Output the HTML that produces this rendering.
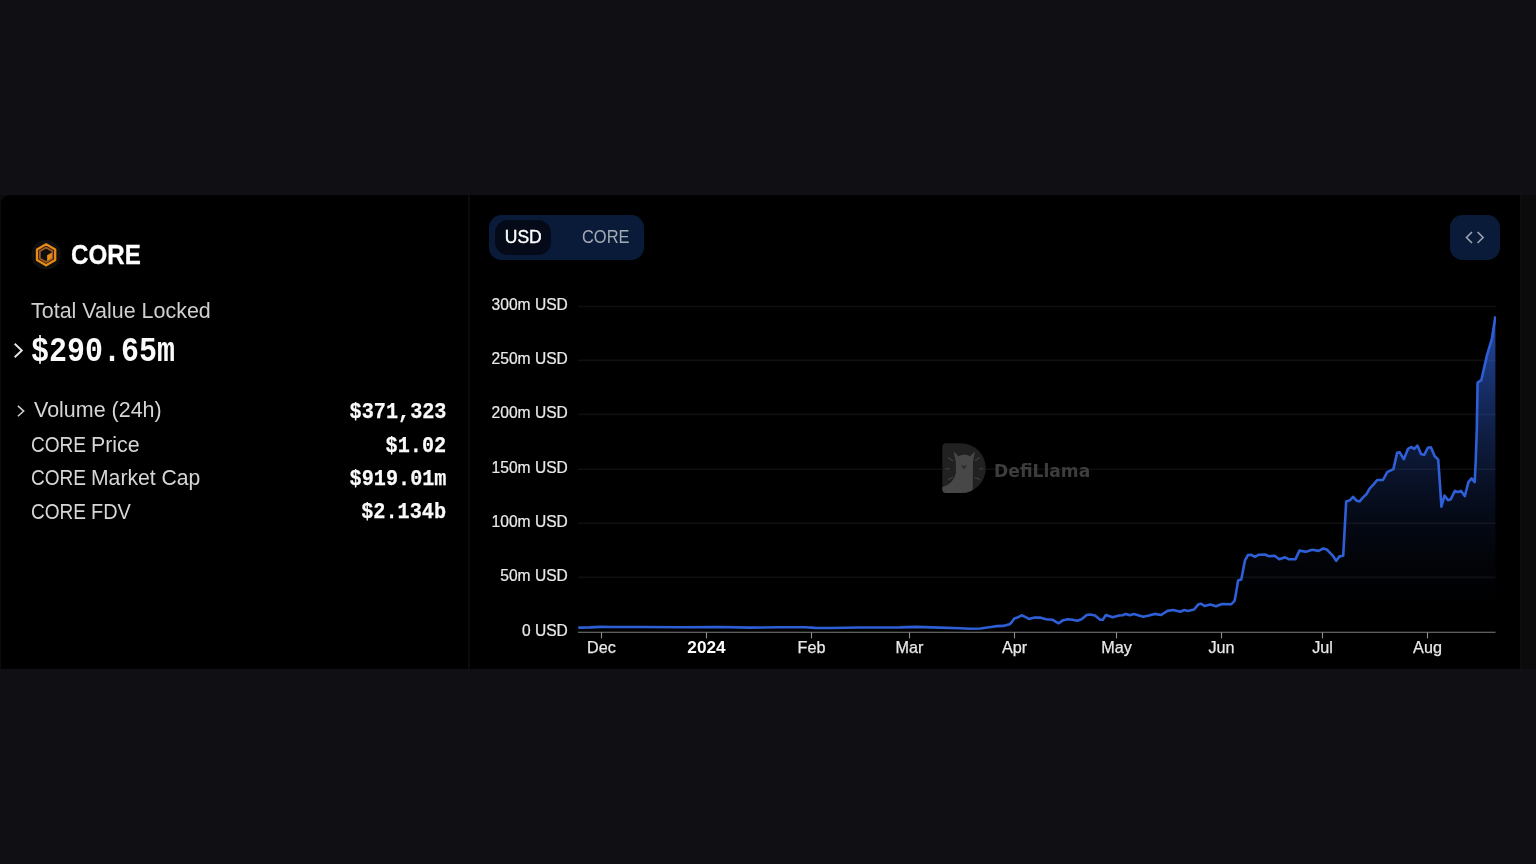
<!DOCTYPE html>
<html lang="en"><head><meta charset="utf-8"><title>CORE - DefiLlama</title>
<style>
*{box-sizing:border-box;margin:0;padding:0}
html,body{width:1536px;height:864px;overflow:hidden;background:#101014;}
body{position:relative;font-family:"Liberation Sans",sans-serif;color:#fff;}
.strip{position:absolute;left:0;top:195.2px;width:1536px;height:473.5px;background:#0b0b0c;}
.panel{position:absolute;left:1.3px;top:195.2px;width:1518.7px;height:473.5px;background:#000;border-radius:9px 0 0 0;}
.divider{position:absolute;left:468px;top:195.2px;width:1.5px;height:473.5px;background:#0b0b0b;}
.abs{position:absolute;white-space:nowrap;line-height:1;}
.mono{font-family:"Liberation Mono",monospace;font-weight:700;}
.lbl{font-size:22.5px;color:#d6d6d6;}
.sx{transform-origin:left top;}
.val{font-size:22.4px;color:#fafafa;text-align:right;right:1089.7px;transform-origin:right top;transform:scaleX(0.902);-webkit-text-stroke:0.25px #fafafa;}
svg{position:absolute;left:0;top:0;}
.ax{font-family:"Liberation Sans",sans-serif;font-size:16.2px;fill:#e8e8e8;stroke:#e8e8e8;stroke-width:0.25px;}
.ay{font-family:"Liberation Sans",sans-serif;font-size:16.6px;fill:#e8e8e8;stroke:#e8e8e8;stroke-width:0.25px;}
.ax.b{font-weight:700;fill:#fff;font-size:16.4px;stroke:none;}
.toggle{position:absolute;left:489.3px;top:215.3px;width:155px;height:45px;border-radius:12.5px;background:#0a1b3a;}
.pill{position:absolute;left:494.5px;top:220.3px;width:56.5px;height:35px;border-radius:13px;background:#050a18;}
.embed{position:absolute;left:1450px;top:215.2px;width:50px;height:45px;border-radius:12.5px;background:#0a1b3a;}
</style></head><body>
<div class="strip"></div>
<div class="panel"></div>
<div class="divider"></div>
<div class="divider" style="left:1520px;width:1.2px;background:#0f0f11;"></div>

<svg width="1536" height="864" viewBox="0 0 1536 864">
<defs>
<linearGradient id="ag" x1="0" y1="316" x2="0" y2="632" gradientUnits="userSpaceOnUse">
<stop offset="0.00" stop-color="#2f5fd6" stop-opacity="0.8000"/>
<stop offset="0.05" stop-color="#2f5fd6" stop-opacity="0.7220"/>
<stop offset="0.10" stop-color="#2f5fd6" stop-opacity="0.6480"/>
<stop offset="0.15" stop-color="#2f5fd6" stop-opacity="0.5780"/>
<stop offset="0.20" stop-color="#2f5fd6" stop-opacity="0.5120"/>
<stop offset="0.25" stop-color="#2f5fd6" stop-opacity="0.4500"/>
<stop offset="0.30" stop-color="#2f5fd6" stop-opacity="0.3920"/>
<stop offset="0.35" stop-color="#2f5fd6" stop-opacity="0.3380"/>
<stop offset="0.40" stop-color="#2f5fd6" stop-opacity="0.2880"/>
<stop offset="0.45" stop-color="#2f5fd6" stop-opacity="0.2420"/>
<stop offset="0.50" stop-color="#2f5fd6" stop-opacity="0.2000"/>
<stop offset="0.55" stop-color="#2f5fd6" stop-opacity="0.1620"/>
<stop offset="0.60" stop-color="#2f5fd6" stop-opacity="0.1280"/>
<stop offset="0.65" stop-color="#2f5fd6" stop-opacity="0.0980"/>
<stop offset="0.70" stop-color="#2f5fd6" stop-opacity="0.0720"/>
<stop offset="0.75" stop-color="#2f5fd6" stop-opacity="0.0500"/>
<stop offset="0.80" stop-color="#2f5fd6" stop-opacity="0.0320"/>
<stop offset="0.85" stop-color="#2f5fd6" stop-opacity="0.0180"/>
<stop offset="0.90" stop-color="#2f5fd6" stop-opacity="0.0080"/>
<stop offset="0.95" stop-color="#2f5fd6" stop-opacity="0.0020"/>
<stop offset="1.00" stop-color="#2f5fd6" stop-opacity="0.0000"/>
</linearGradient>
</defs>
<!-- token icon -->
<circle cx="46.1" cy="254.7" r="14.8" fill="#0f0f0f"/>
<polygon points="46.1,244.3 55.2,249.55 55.2,260.05 46.1,265.3 37,260.05 37,249.55" fill="none" stroke="#e98b16" stroke-width="2.3" stroke-linejoin="round"/>
<polygon points="46.1,247.5 52.4,251.15 52.4,258.45 46.1,262.1 39.8,258.45 39.8,251.15" fill="none" stroke="#9a5a22" stroke-width="1.9" stroke-linejoin="round"/>
<polygon points="47.1,255.2 51.9,252.6 51.9,258.3 47.1,260.9" fill="#e98b16"/>
<!-- chevrons -->
<polyline points="14.7,343.7 21.8,350.5 14.7,357.3" fill="none" stroke="#e6e6e6" stroke-width="1.9"/>
<polyline points="17.9,405.9 23.7,411.1 17.9,416.3" fill="none" stroke="#cfcfcf" stroke-width="1.5"/>
<!-- grid -->
<line x1="578" x2="1495.5" y1="577.4" y2="577.4" stroke="#0f0f0f" stroke-width="1.6"/>
<line x1="578" x2="1495.5" y1="523.3" y2="523.3" stroke="#0f0f0f" stroke-width="1.6"/>
<line x1="578" x2="1495.5" y1="469.3" y2="469.3" stroke="#0f0f0f" stroke-width="1.6"/>
<line x1="578" x2="1495.5" y1="414.4" y2="414.4" stroke="#0f0f0f" stroke-width="1.6"/>
<line x1="578" x2="1495.5" y1="360.4" y2="360.4" stroke="#0f0f0f" stroke-width="1.6"/>
<line x1="578" x2="1495.5" y1="306.5" y2="306.5" stroke="#0f0f0f" stroke-width="1.6"/>

<!-- watermark -->
<g>
<clipPath id="dclip"><path d="M942.3,447.3 q0,-4 4,-4 h14.6 a24.9,24.9 0 0 1 0,49.8 h-14.6 q-4,0 -4,-4 z"/></clipPath>
<path d="M942.3,447.3 q0,-4 4,-4 h14.6 a24.9,24.9 0 0 1 0,49.8 h-14.6 q-4,0 -4,-4 z" fill="#222222" fill-opacity="0.96"/>
<g clip-path="url(#dclip)">
<path d="M953.6,451.4 L958.6,456.2 Q964.3,453 970,456.2 L975,451.4 L973,461.5 L972.7,494 L941,494 L941,487.5 Q953,485 956,473 L955.7,461.5 Z" fill="#474747"/>
<path d="M961.2,464.6 l2.1,1.3 h1.6 l2.1,-1.3 l-1.2,2.6 l-1.7,1.9 l-1.7,-1.9 z" fill="#2a2a2a"/>
</g>
<path d="M948.3,457.7 L952.7,460.7 M945.5,468.8 L949.4,468.8 M948.3,479.5 L952.7,477.2 M979.3,457.7 L975.4,460.5 M979.3,468.8 L982.8,468.8 M975.4,477.6 L979.8,479.8" stroke="#3e3e3e" stroke-width="1.2" fill="none" stroke-linecap="round"/>
<text x="994.1" y="476.7" font-family="DejaVu Sans, Liberation Sans, sans-serif" font-weight="700" font-size="17.1" fill="#3d3d3d">DefiLlama</text>
</g>
<!-- area + line -->
<clipPath id="cc"><rect x="577" y="290" width="918.9" height="345"/></clipPath>
<g clip-path="url(#cc)">
<polygon points="578.3,627.6 590.0,627.4 601.0,626.9 612.0,627.0 640.0,627.0 680.0,627.2 720.0,627.0 750.0,627.6 780.0,627.3 805.0,627.2 815.0,627.9 830.0,628.0 860.0,627.5 900.0,627.4 916.0,626.9 940.0,627.6 960.0,628.3 970.0,628.7 980.4,628.5 990.8,627.0 997.1,626.1 1003.3,625.9 1009.6,624.2 1011.7,622.3 1014.3,618.6 1017.4,617.6 1021.6,615.3 1025.2,616.9 1028.9,618.9 1034.6,617.6 1039.8,617.6 1046.0,619.2 1052.3,619.7 1058.5,623.3 1063.2,620.2 1067.9,619.2 1072.6,619.7 1077.3,620.7 1081.5,619.2 1086.7,615.0 1089.8,614.5 1095.0,615.5 1100.2,619.7 1102.8,619.7 1105.9,615.0 1112.7,617.3 1119.0,615.5 1122.6,615.3 1125.8,613.9 1129.8,615.3 1133.9,614.1 1143.2,616.8 1148.9,615.5 1154.7,613.9 1161.1,615.0 1167.5,610.9 1173.3,610.0 1180.2,611.8 1184.3,610.0 1187.7,610.9 1194.1,609.5 1198.1,604.6 1201.0,603.7 1204.5,606.0 1210.3,604.6 1216.1,606.3 1221.9,604.0 1231.1,604.3 1234.6,600.8 1236.4,590.9 1238.1,580.5 1241.3,579.4 1243.3,568.9 1245.0,560.3 1247.9,555.1 1251.4,554.8 1254.9,556.8 1258.4,554.8 1264.7,554.5 1269.3,556.2 1274.6,555.8 1279.3,559.3 1285.1,557.3 1289.1,559.3 1295.5,559.1 1299.5,550.6 1305.9,551.8 1312.3,549.7 1318.6,550.9 1323.3,548.5 1326.7,549.5 1332.5,555.3 1336.2,560.8 1339.5,556.4 1343.2,555.8 1344.7,528.6 1346.2,501.4 1349.9,500.3 1353.1,496.8 1356.8,500.8 1359.7,501.4 1362.6,497.9 1366.7,493.9 1369.6,488.7 1373.6,484.4 1377.2,480.0 1383.0,480.0 1387.2,472.2 1393.4,469.1 1397.1,452.9 1399.7,452.4 1403.9,459.2 1408.0,448.8 1411.1,447.0 1414.3,448.8 1417.4,445.6 1421.0,454.0 1424.2,455.0 1427.8,447.7 1430.9,447.2 1434.6,456.0 1438.2,459.7 1439.8,482.1 1441.4,506.6 1444.5,495.6 1448.1,500.3 1450.7,499.3 1454.9,490.9 1458.0,492.0 1461.1,490.9 1464.8,496.1 1468.4,482.1 1471.6,478.4 1474.7,482.1 1475.7,461.2 1476.8,430.0 1477.6,382.7 1481.3,380.2 1487.0,355.1 1491.9,338.9 1495.4,316.3 1495.4,632 578.3,632" fill="url(#ag)"/>
<polyline points="578.3,627.6 590.0,627.4 601.0,626.9 612.0,627.0 640.0,627.0 680.0,627.2 720.0,627.0 750.0,627.6 780.0,627.3 805.0,627.2 815.0,627.9 830.0,628.0 860.0,627.5 900.0,627.4 916.0,626.9 940.0,627.6 960.0,628.3 970.0,628.7 980.4,628.5 990.8,627.0 997.1,626.1 1003.3,625.9 1009.6,624.2 1011.7,622.3 1014.3,618.6 1017.4,617.6 1021.6,615.3 1025.2,616.9 1028.9,618.9 1034.6,617.6 1039.8,617.6 1046.0,619.2 1052.3,619.7 1058.5,623.3 1063.2,620.2 1067.9,619.2 1072.6,619.7 1077.3,620.7 1081.5,619.2 1086.7,615.0 1089.8,614.5 1095.0,615.5 1100.2,619.7 1102.8,619.7 1105.9,615.0 1112.7,617.3 1119.0,615.5 1122.6,615.3 1125.8,613.9 1129.8,615.3 1133.9,614.1 1143.2,616.8 1148.9,615.5 1154.7,613.9 1161.1,615.0 1167.5,610.9 1173.3,610.0 1180.2,611.8 1184.3,610.0 1187.7,610.9 1194.1,609.5 1198.1,604.6 1201.0,603.7 1204.5,606.0 1210.3,604.6 1216.1,606.3 1221.9,604.0 1231.1,604.3 1234.6,600.8 1236.4,590.9 1238.1,580.5 1241.3,579.4 1243.3,568.9 1245.0,560.3 1247.9,555.1 1251.4,554.8 1254.9,556.8 1258.4,554.8 1264.7,554.5 1269.3,556.2 1274.6,555.8 1279.3,559.3 1285.1,557.3 1289.1,559.3 1295.5,559.1 1299.5,550.6 1305.9,551.8 1312.3,549.7 1318.6,550.9 1323.3,548.5 1326.7,549.5 1332.5,555.3 1336.2,560.8 1339.5,556.4 1343.2,555.8 1344.7,528.6 1346.2,501.4 1349.9,500.3 1353.1,496.8 1356.8,500.8 1359.7,501.4 1362.6,497.9 1366.7,493.9 1369.6,488.7 1373.6,484.4 1377.2,480.0 1383.0,480.0 1387.2,472.2 1393.4,469.1 1397.1,452.9 1399.7,452.4 1403.9,459.2 1408.0,448.8 1411.1,447.0 1414.3,448.8 1417.4,445.6 1421.0,454.0 1424.2,455.0 1427.8,447.7 1430.9,447.2 1434.6,456.0 1438.2,459.7 1439.8,482.1 1441.4,506.6 1444.5,495.6 1448.1,500.3 1450.7,499.3 1454.9,490.9 1458.0,492.0 1461.1,490.9 1464.8,496.1 1468.4,482.1 1471.6,478.4 1474.7,482.1 1475.7,461.2 1476.8,430.0 1477.6,382.7 1481.3,380.2 1487.0,355.1 1491.9,338.9 1495.4,316.3" fill="none" stroke="#2f5fd6" stroke-width="2.6" stroke-linejoin="round" stroke-linecap="butt"/>
</g>
<!-- axis -->
<line x1="578" x2="1495.5" y1="632.3" y2="632.3" stroke="#7c7c7c" stroke-width="1.1"/>
<line x1="601.5" x2="601.5" y1="632.3" y2="638.3" stroke="#909090" stroke-width="1.1"/>
<text x="601.5" y="652.9" text-anchor="middle" class="ax">Dec</text>
<line x1="706.5" x2="706.5" y1="632.3" y2="638.3" stroke="#909090" stroke-width="1.1"/>
<text transform="translate(706.5,652.9) scale(1.05,1)" x="0" y="0" text-anchor="middle" class="ax b">2024</text>
<line x1="811.5" x2="811.5" y1="632.3" y2="638.3" stroke="#909090" stroke-width="1.1"/>
<text x="811.5" y="652.9" text-anchor="middle" class="ax">Feb</text>
<line x1="909.5" x2="909.5" y1="632.3" y2="638.3" stroke="#909090" stroke-width="1.1"/>
<text x="909.5" y="652.9" text-anchor="middle" class="ax">Mar</text>
<line x1="1014.5" x2="1014.5" y1="632.3" y2="638.3" stroke="#909090" stroke-width="1.1"/>
<text x="1014.5" y="652.9" text-anchor="middle" class="ax">Apr</text>
<line x1="1116.5" x2="1116.5" y1="632.3" y2="638.3" stroke="#909090" stroke-width="1.1"/>
<text x="1116.5" y="652.9" text-anchor="middle" class="ax">May</text>
<line x1="1221.5" x2="1221.5" y1="632.3" y2="638.3" stroke="#909090" stroke-width="1.1"/>
<text x="1221.5" y="652.9" text-anchor="middle" class="ax">Jun</text>
<line x1="1322.5" x2="1322.5" y1="632.3" y2="638.3" stroke="#909090" stroke-width="1.1"/>
<text x="1322.5" y="652.9" text-anchor="middle" class="ax">Jul</text>
<line x1="1427.5" x2="1427.5" y1="632.3" y2="638.3" stroke="#909090" stroke-width="1.1"/>
<text x="1427.5" y="652.9" text-anchor="middle" class="ax">Aug</text>

<text transform="translate(567.8,636) scale(0.94,1)" x="0" y="0" text-anchor="end" class="ay">0 USD</text>
<text transform="translate(567.8,581) scale(0.94,1)" x="0" y="0" text-anchor="end" class="ay">50m USD</text>
<text transform="translate(567.8,527) scale(0.94,1)" x="0" y="0" text-anchor="end" class="ay">100m USD</text>
<text transform="translate(567.8,473) scale(0.94,1)" x="0" y="0" text-anchor="end" class="ay">150m USD</text>
<text transform="translate(567.8,418) scale(0.94,1)" x="0" y="0" text-anchor="end" class="ay">200m USD</text>
<text transform="translate(567.8,364) scale(0.94,1)" x="0" y="0" text-anchor="end" class="ay">250m USD</text>
<text transform="translate(567.8,310) scale(0.94,1)" x="0" y="0" text-anchor="end" class="ay">300m USD</text>

</svg>

<div class="abs sx" style="left:71px;top:241px;font-size:28px;font-weight:700;color:#fff;transform:scaleX(0.862);-webkit-text-stroke:0.3px #fff;">CORE</div>
<div class="abs lbl sx" style="left:30.6px;top:300px;color:#d0d0d0;transform:scaleX(0.9539);">Total Value Locked</div>
<div class="abs mono sx" style="left:30.5px;top:335px;font-size:35.2px;color:#fafafa;transform:scaleX(0.852);">$290.65m</div>

<div class="abs lbl sx" style="left:33.6px;top:399px;transform:scaleX(0.9539);">Volume (24h)</div>
<div class="abs mono val" style="top:400.7px;">$371,323</div>
<div class="row"><span class="abs lbl sx" style="left:31.1px;top:434px;transform:scaleX(0.8475);">CORE</span> <span class="abs lbl sx" style="left:90.85px;top:434px;transform:scaleX(0.9492);">Price</span></div>
<div class="abs mono val" style="top:435.4px;">$1.02</div>
<div class="row"><span class="abs lbl sx" style="left:31.1px;top:467px;transform:scaleX(0.8475);">CORE</span> <span class="abs lbl sx" style="left:90.9px;top:467px;transform:scaleX(0.9403);">Market Cap</span></div>
<div class="abs mono val" style="top:468.4px;">$919.01m</div>
<div class="row"><span class="abs lbl sx" style="left:31.1px;top:501px;transform:scaleX(0.8475);">CORE</span> <span class="abs lbl sx" style="left:90.75px;top:501px;transform:scaleX(0.8867);">FDV</span></div>
<div class="abs mono val" style="top:501.4px;">$2.134b</div>

<div class="toggle"></div>
<div class="pill"></div>
<div class="abs" style="left:504.8px;top:229px;font-size:17.5px;font-weight:400;-webkit-text-stroke:0.4px #fff;color:#fff;">USD</div>
<div class="abs sx" style="left:581.8px;top:229px;font-size:17.5px;color:#a4abb5;transform:scaleX(0.9385);">CORE</div>
<div class="embed"></div>
<svg width="1536" height="864" viewBox="0 0 1536 864" style="pointer-events:none">
<polyline points="1472,232 1466.5,237.5 1472,243" fill="none" stroke="#9ca5b0" stroke-width="1.6"/>
<polyline points="1477.6,232 1483.1,237.5 1477.6,243" fill="none" stroke="#9ca5b0" stroke-width="1.6"/>
</svg>
</body></html>
